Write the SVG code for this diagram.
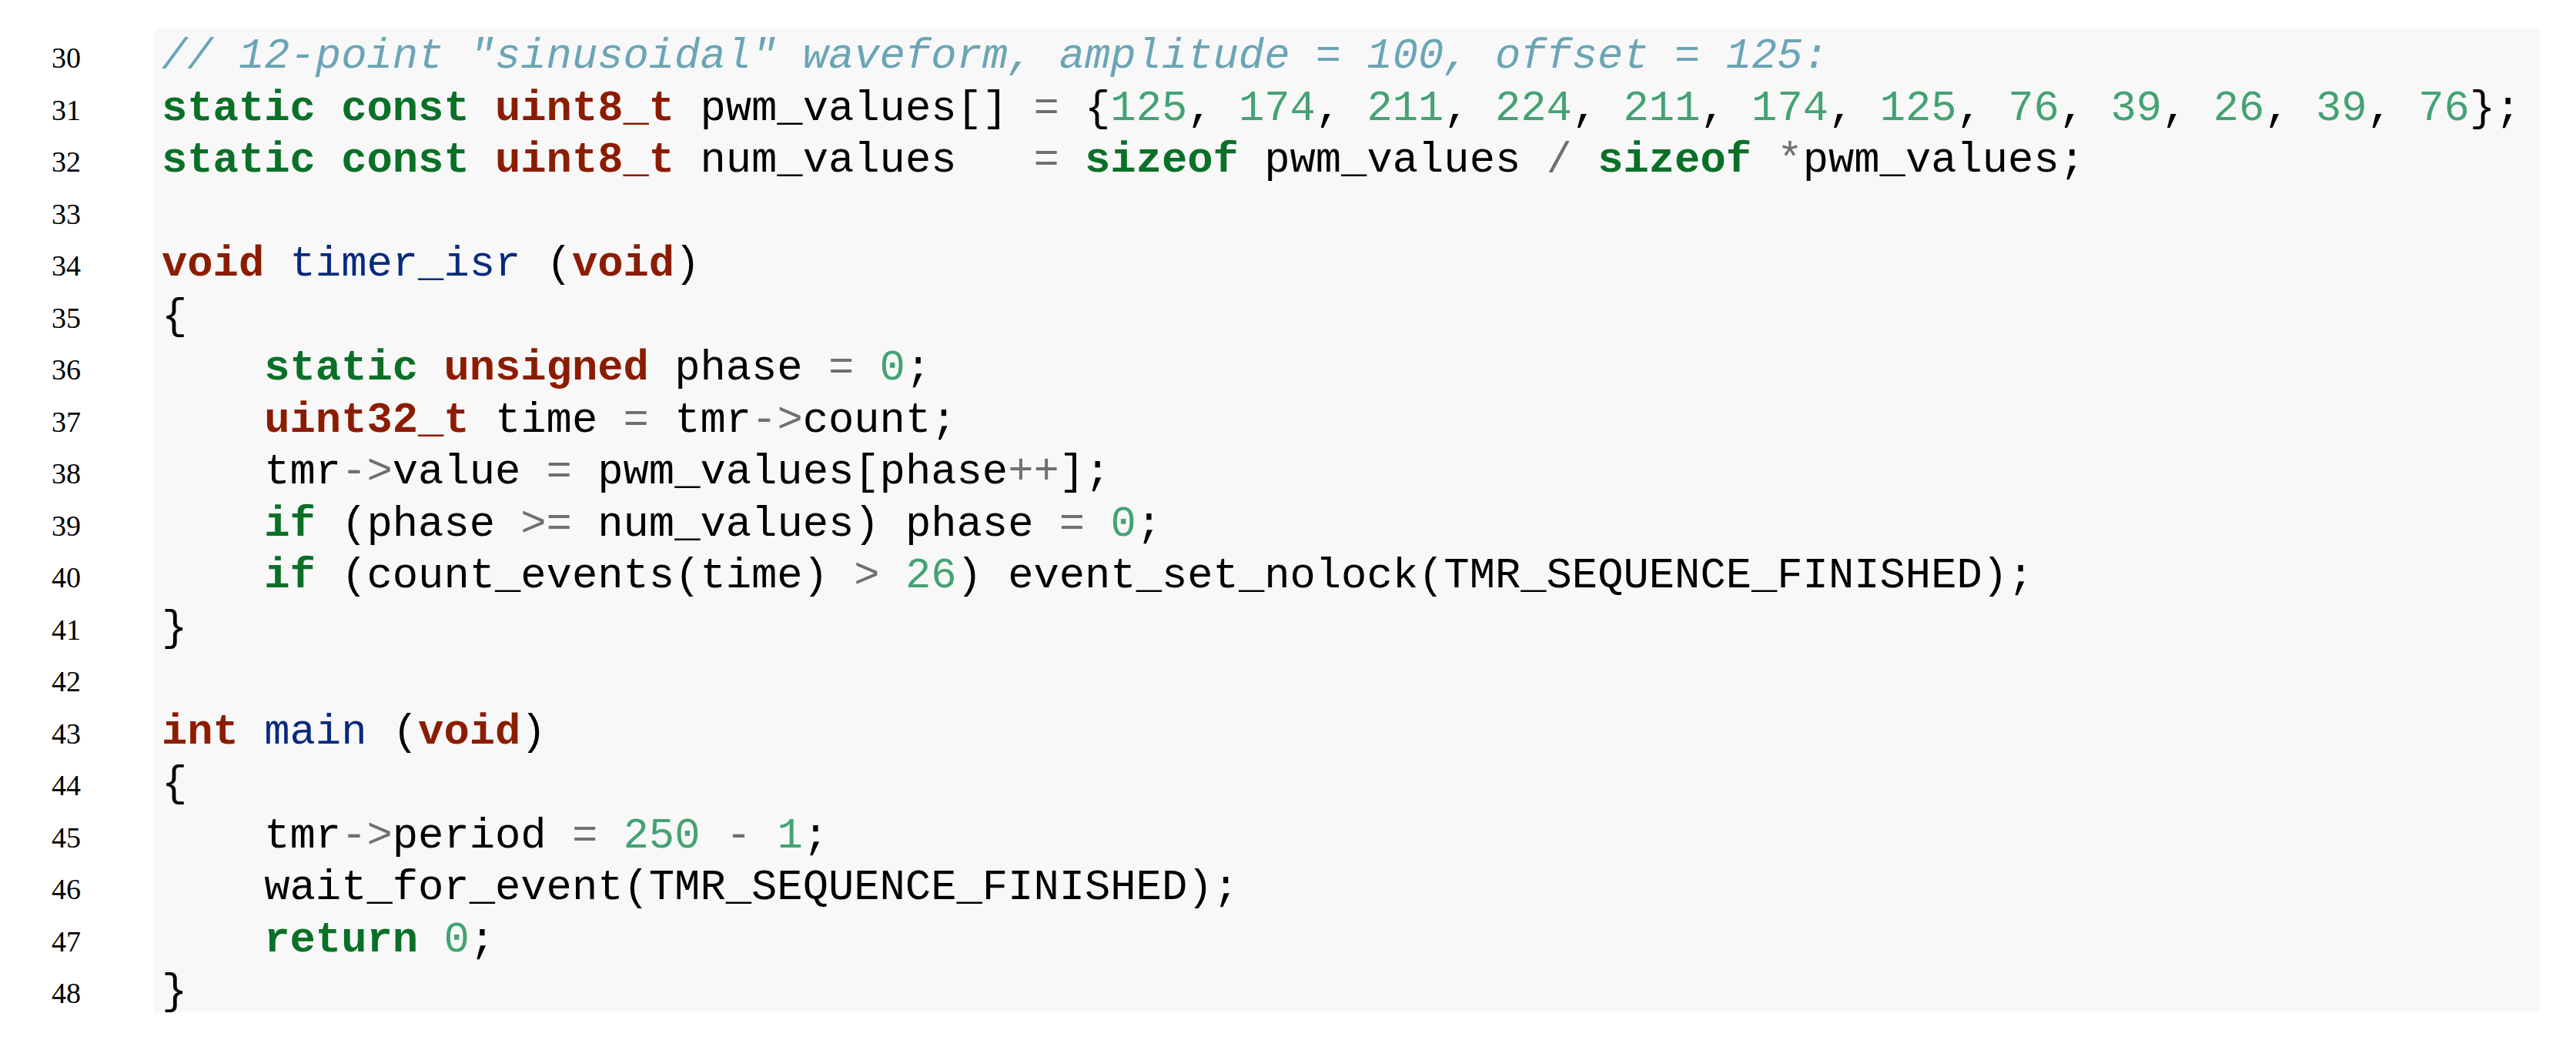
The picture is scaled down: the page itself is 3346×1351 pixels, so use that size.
<svg xmlns="http://www.w3.org/2000/svg" width="3346" height="1351" viewBox="0 0 3346 1351">
<style>
.c{font-family:"Liberation Mono",monospace;font-size:55.5px;fill:#000;white-space:pre}
.n{font-family:"Liberation Serif",serif;font-size:38px;fill:#000;text-anchor:end}
.cm{fill:#6aa5b5;font-style:italic}
.k{fill:#0a7028;font-weight:bold}
.t{fill:#8c1c00;font-weight:bold}
.f{fill:#062a7e}
.d{fill:#44a273}
.o{fill:#707070}
</style>
<rect x="200" y="37" width="3099" height="1278" fill="#f8f8f8"/>
<g id="linenumbers">
<text class="n" x="105" y="88">30</text><text class="n" x="105" y="156">31</text><text class="n" x="105" y="223">32</text><text class="n" x="105" y="291">33</text><text class="n" x="105" y="358">34</text><text class="n" x="105" y="426">35</text><text class="n" x="105" y="493">36</text><text class="n" x="105" y="561">37</text><text class="n" x="105" y="628">38</text><text class="n" x="105" y="696">39</text><text class="n" x="105" y="763">40</text><text class="n" x="105" y="831">41</text><text class="n" x="105" y="898">42</text><text class="n" x="105" y="966">43</text><text class="n" x="105" y="1033">44</text><text class="n" x="105" y="1101">45</text><text class="n" x="105" y="1168">46</text><text class="n" x="105" y="1236">47</text><text class="n" x="105" y="1303">48</text>
</g>
<g id="code" xml:space="preserve">
<text class="c" x="210" y="88"><tspan class="cm">// 12-point "sinusoidal" waveform, amplitude = 100, offset = 125:</tspan></text>
<text class="c" x="210" y="156"><tspan class="k">static</tspan> <tspan class="k">const</tspan> <tspan class="t">uint8_t</tspan> pwm_values[] <tspan class="o">=</tspan> {<tspan class="d">125</tspan>, <tspan class="d">174</tspan>, <tspan class="d">211</tspan>, <tspan class="d">224</tspan>, <tspan class="d">211</tspan>, <tspan class="d">174</tspan>, <tspan class="d">125</tspan>, <tspan class="d">76</tspan>, <tspan class="d">39</tspan>, <tspan class="d">26</tspan>, <tspan class="d">39</tspan>, <tspan class="d">76</tspan>};</text>
<text class="c" x="210" y="223"><tspan class="k">static</tspan> <tspan class="k">const</tspan> <tspan class="t">uint8_t</tspan> num_values   <tspan class="o">=</tspan> <tspan class="k">sizeof</tspan> pwm_values <tspan class="o">/</tspan> <tspan class="k">sizeof</tspan> <tspan class="o">*</tspan>pwm_values;</text>
<text class="c" x="210" y="358"><tspan class="t">void</tspan> <tspan class="f">timer_isr</tspan> (<tspan class="t">void</tspan>)</text>
<text class="c" x="210" y="426">{</text>
<text class="c" x="210" y="493">    <tspan class="k">static</tspan> <tspan class="t">unsigned</tspan> phase <tspan class="o">=</tspan> <tspan class="d">0</tspan>;</text>
<text class="c" x="210" y="561">    <tspan class="t">uint32_t</tspan> time <tspan class="o">=</tspan> tmr<tspan class="o">-&gt;</tspan>count;</text>
<text class="c" x="210" y="628">    tmr<tspan class="o">-&gt;</tspan>value <tspan class="o">=</tspan> pwm_values[phase<tspan class="o">++</tspan>];</text>
<text class="c" x="210" y="696">    <tspan class="k">if</tspan> (phase <tspan class="o">&gt;=</tspan> num_values) phase <tspan class="o">=</tspan> <tspan class="d">0</tspan>;</text>
<text class="c" x="210" y="763">    <tspan class="k">if</tspan> (count_events(time) <tspan class="o">&gt;</tspan> <tspan class="d">26</tspan>) event_set_nolock(TMR_SEQUENCE_FINISHED);</text>
<text class="c" x="210" y="831">}</text>
<text class="c" x="210" y="966"><tspan class="t">int</tspan> <tspan class="f">main</tspan> (<tspan class="t">void</tspan>)</text>
<text class="c" x="210" y="1033">{</text>
<text class="c" x="210" y="1101">    tmr<tspan class="o">-&gt;</tspan>period <tspan class="o">=</tspan> <tspan class="d">250</tspan> <tspan class="o">-</tspan> <tspan class="d">1</tspan>;</text>
<text class="c" x="210" y="1168">    wait_for_event(TMR_SEQUENCE_FINISHED);</text>
<text class="c" x="210" y="1236">    <tspan class="k">return</tspan> <tspan class="d">0</tspan>;</text>
<text class="c" x="210" y="1303">}</text>
</g>
</svg>
